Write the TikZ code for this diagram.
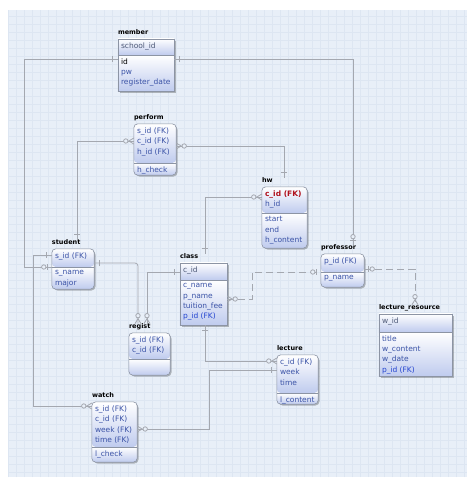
\documentclass[tikz,border=0pt]{standalone}
\usepackage{fontspec}
\setmainfont{DejaVu Sans}
\usetikzlibrary{fit,shadows}

\definecolor{bgblue}{HTML}{E8EFF8}
\definecolor{gridblue}{HTML}{DDE6F2}
\definecolor{boxblue}{HTML}{BFCBEE}
\definecolor{boxline}{HTML}{8C94A4}
\definecolor{rowblue}{HTML}{3A52A6}
\definecolor{fkblue}{HTML}{2444D0}
\definecolor{keygray}{HTML}{4E5A78}
\definecolor{fkred}{HTML}{B0101C}
\definecolor{linegray}{HTML}{A4A8B0}

\tikzstyle{indep} = [sharp corners]
\tikzstyle{dep} = [rounded corners=4pt]
\tikzstyle{tablebox} = [inner sep=0pt, fill=white, drop shadow={shadow xshift=1.5pt, shadow yshift=-1.5pt, fill=black, opacity=0.25}]
\tikzstyle{section} = [top color=white, bottom color=boxblue]
\tikzstyle{tabletitle} = [anchor=base west, inner sep=0pt, font=\fontsize{6.5}{8}\selectfont\bfseries]
\tikzstyle{rows} = [anchor=north west, inner sep=0pt, align=left, text=rowblue, font=\fontsize{7.5}{10.2}\selectfont]
\tikzstyle{rel} = [draw=linegray, line width=0.8pt]
\tikzstyle{nonid} = [rel, dash pattern=on 7pt off 4pt]

\tikzset{
  one/.pic={\draw[rel] (-5,-3) -- (-5,3);},
  zeroone/.pic={\draw[rel] (-4,-3) -- (-4,3); \draw[rel, fill=bgblue] (-8,0) circle (2.2);},
  zeromany/.pic={\draw[rel] (0,-3) -- (-5,0) -- (0,3); \draw[rel, fill=bgblue] (-8,0) circle (2.2);}
}

% name, corners, top left, bottom right, divider y, title, key rows, other rows
\newcommand{\ertable}[8]{%
  \node[tablebox, #2, fit={(#3) (#4)}] (#1) {};
  \shade[section, #2] (#1.north west) rectangle (#1.east |- 0,#5);
  \shade[section, #2] (#1.west |- 0,#5) rectangle (#1.south east);
  \draw[boxline, line width=0.6pt, #2] (#1.north west) rectangle (#1.south east);
  \draw[boxline, line width=0.6pt] (#1.west |- 0,#5) -- (#1.east |- 0,#5);
  \node[tabletitle] (#1-t) at ([yshift=4pt]#1.north west) {#6};
  \path (#1.north west) ++(3,4) node[rows] {#7};
  \path (#1.west |- 0,#5) ++(3,3.5) node[rows] {#8};
}

\begin{document}
\begin{tikzpicture}[x=1pt, y=-1pt]
    \useasboundingbox (0,0) rectangle (474,480);
    \fill[white] (0,0) rectangle (474,480);
    \fill[bgblue] (8,10) rectangle (467,477);
    \draw[gridblue, line width=0.3pt, step=8pt] (8,10) grid (467,477);

    \ertable{member}{indep}{118,39}{174,91}{55}{member}{\textcolor{keygray}{school\_id}}{\textcolor{black}{id}\\pw\\register\_date}
    \ertable{perform}{dep}{134,124}{176,175}{163}{perform}{s\_id (FK)\\c\_id (FK)\\h\_id (FK)}{h\_check}
    \ertable{hw}{dep}{262,187}{307,248}{213}{hw}{\textcolor{fkred}{\bfseries c\_id (FK)}\\h\_id}{start\\end\\h\_content}
    \ertable{student}{dep}{52,249}{94,289}{267}{student}{s\_id (FK)}{s\_name\\major}
    \ertable{class}{indep}{180,263}{227,325}{280}{class}{\textcolor{keygray}{c\_id}}{c\_name\\p\_name\\tuition\_fee\\\textcolor{fkblue}{p\_id (FK)}}
    \ertable{professor}{dep}{321,254}{364,287}{272}{professor}{p\_id (FK)}{p\_name}
    \ertable{lres}{indep}{379,314}{452,376}{332}{lecture\_resource}{\textcolor{keygray}{w\_id}}{title\\w\_content\\w\_date\\\textcolor{fkblue}{p\_id (FK)}}
    \ertable{regist}{dep}{129,333}{170,375}{359}{regist}{s\_id (FK)\\c\_id (FK)}{}
    \ertable{lecture}{dep}{277,355}{318,404}{393}{lecture}{c\_id (FK)\\week\\time}{l\_content}
    \ertable{watch}{dep}{92,402}{137,462}{447}{watch}{s\_id (FK)\\c\_id (FK)\\week (FK)\\time (FK)}{l\_check}

    % relationships
    \draw[rel] (member.west |- 0,59) -| (24,267) -- (student.west |- 0,267);
    \draw[rel] (member.east |- 0,59) -| (professor-t.north -| 353,0);
    \draw[rel] (student-t.north -| 77,0) |- (perform.west |- 0,141);
    \draw[rel] (perform.east |- 0,146) -| (hw-t.north -| 284,0);
    \draw[rel] (hw.west |- 0,197) -| (class-t.north -| 205,0);
    \draw[rel, rounded corners=3pt] (student.east |- 0,263) -| (regist-t.north -| 138,0);
    \draw[rel] (class.west |- 0,272) -| (regist-t.north -| 147,0);
    \draw[rel] (student.west |- 0,255) -- (33,255) |- (watch.west |- 0,406);
    \draw[rel] (class.south -| 205,0) |- (lecture.west |- 0,361);
    \draw[rel] (lecture.west |- 0,370) -- (209,370) |- (watch.east |- 0,429);
    \draw[nonid] (class.east |- 0,299) -- (252,299) |- (professor.west |- 0,272);
    \draw[nonid] (professor.east |- 0,269) -| (lres-t.north -| 415,0);

    % cardinality marks
    \pic at (member.west |- 0,59) {one};
    \pic[rotate=180] at (member.east |- 0,59) {one};
    \pic at (student.west |- 0,267) {zeroone};
    \pic[rotate=-90] at (professor-t.north -| 353,0) {zeroone};
    \pic[rotate=-90] at (student-t.north -| 77,0) {one};
    \pic at (perform.west |- 0,141) {zeromany};
    \pic[rotate=180] at (perform.east |- 0,146) {zeromany};
    \pic[rotate=-90] at (hw-t.north -| 284,0) {one};
    \pic at (hw.west |- 0,197) {zeromany};
    \pic[rotate=-90] at (class-t.north -| 205,0) {one};
    \pic[rotate=180] at (student.east |- 0,263) {one};
    \pic[rotate=-90] at (regist-t.north -| 138,0) {zeromany};
    \pic[rotate=-90] at (regist-t.north -| 147,0) {zeromany};
    \pic at (class.west |- 0,272) {one};
    \pic at (student.west |- 0,255) {one};
    \pic at (watch.west |- 0,406) {zeromany};
    \pic[rotate=90] at (class.south -| 205,0) {one};
    \pic at (lecture.west |- 0,361) {zeromany};
    \pic at (lecture.west |- 0,370) {one};
    \pic[rotate=180] at (watch.east |- 0,429) {zeromany};
    \pic[rotate=180] at (class.east |- 0,299) {zeromany};
    \pic at (professor.west |- 0,272) {zeroone};
    \pic[rotate=180] at (professor.east |- 0,269) {zeroone};
    \pic[rotate=-90] at (lres-t.north -| 415,0) {zeromany};
\end{tikzpicture}
\end{document}
